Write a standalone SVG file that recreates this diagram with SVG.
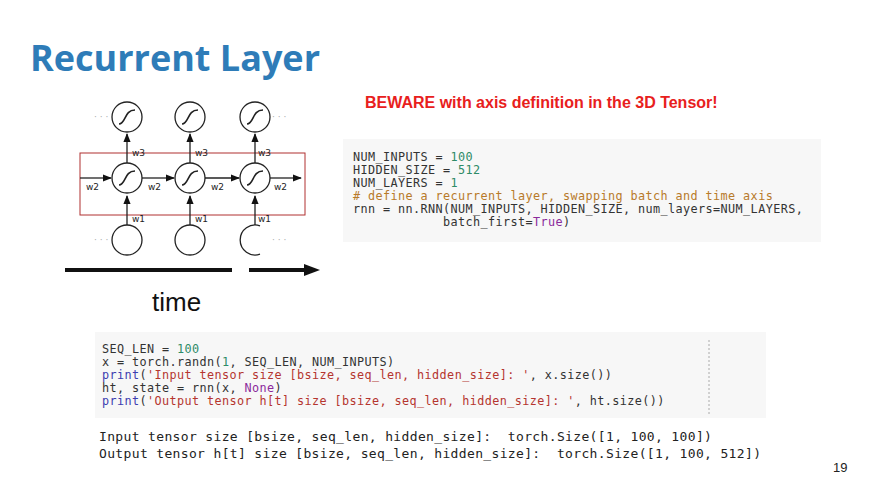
<svg xmlns="http://www.w3.org/2000/svg" width="869" height="486" viewBox="0 0 869 486">
<style>
.n{fill:#fff;stroke:#222;stroke-width:1.3}
.s{fill:none;stroke:#222;stroke-width:1.6}
.c{stroke:#222;stroke-width:1.3;fill:none}
.w{font-family:"DejaVu Sans",sans-serif;font-size:9px;fill:#222}
.m{font-family:"DejaVu Sans Mono",monospace;font-size:11.8px;letter-spacing:0.4px;fill:#333;white-space:pre}
.d{fill:#aaa;font-family:"DejaVu Sans",sans-serif;font-size:9px}
.g{fill:#2e8b67}.o{fill:#b87a2a}.p{fill:#8b2a9b}.r{fill:#b5352f}.b{fill:#3d3db0}
</style>
<defs>
<marker id="a" viewBox="0 0 10 10" refX="9" refY="5" markerWidth="7" markerHeight="7" orient="auto"><path d="M0,1 L10,5 L0,9z" fill="#111"/></marker>
<g id="sig"><path d="M-8,7 C-1,7 -3,-7 8,-7" class="s"/></g>
</defs>
<rect width="869" height="486" fill="#fff"/>
<text x="30" y="71" font-family="Open Sans,sans-serif" font-weight="bold" font-size="36" fill="#2e7cb8">Recurrent Layer</text>
<text x="365" y="108" font-family="Liberation Sans,sans-serif" font-weight="bold" font-size="16" fill="#e8201c">BEWARE with axis definition in the 3D Tensor!</text>

<g id="connectors">
<rect x="80" y="153" width="225" height="62" fill="none" stroke="#b03030" stroke-width="1"/>
<line x1="127" y1="225" x2="127" y2="196" class="c" marker-end="url(#a)"/>
<line x1="190" y1="225" x2="190" y2="196" class="c" marker-end="url(#a)"/>
<line x1="255" y1="225" x2="255" y2="196" class="c" marker-end="url(#a)"/>
<line x1="127" y1="163" x2="127" y2="134" class="c" marker-end="url(#a)"/>
<line x1="190" y1="163" x2="190" y2="134" class="c" marker-end="url(#a)"/>
<line x1="255" y1="163" x2="255" y2="134" class="c" marker-end="url(#a)"/>
<line x1="80" y1="178" x2="111" y2="178" class="c" marker-end="url(#a)"/>
<line x1="142" y1="178" x2="174" y2="178" class="c" marker-end="url(#a)"/>
<line x1="205" y1="178" x2="239" y2="178" class="c" marker-end="url(#a)"/>
<line x1="270" y1="178" x2="301" y2="178" class="c" marker-end="url(#a)"/>
<text class="w" x="132" y="156">w3</text><text class="w" x="195" y="156">w3</text><text class="w" x="258" y="156">w3</text>
<text class="w" x="86" y="190">w2</text><text class="w" x="148" y="190">w2</text><text class="w" x="211" y="190">w2</text><text class="w" x="274" y="190">w2</text>
<text class="w" x="132" y="222">w1</text><text class="w" x="195" y="222">w1</text><text class="w" x="258" y="222">w1</text>
<line x1="65" y1="270" x2="232" y2="270" stroke="#111" stroke-width="4"/>
<line x1="249" y1="270" x2="306" y2="270" stroke="#111" stroke-width="4"/>
<path d="M304,264 L320,270 L304,276z" fill="#111"/>
</g>
<text class="d" x="94" y="120">· · ·</text><text class="d" x="272" y="120">· · ·</text>
<text class="d" x="94" y="243">· · ·</text><text class="d" x="272" y="243">· · ·</text>
<g id="o1"><circle class="n" cx="127" cy="117" r="15"/><use href="#sig" x="127" y="117"/></g>
<g id="o2"><circle class="n" cx="190" cy="117" r="15"/><use href="#sig" x="190" y="117"/></g>
<g id="o3"><circle class="n" cx="255" cy="117" r="15"/><use href="#sig" x="255" y="117"/></g>
<g id="h1"><circle class="n" cx="127" cy="178" r="15"/><use href="#sig" x="127" y="178"/></g>
<g id="h2"><circle class="n" cx="190" cy="178" r="15"/><use href="#sig" x="190" y="178"/></g>
<g id="h3"><circle class="n" cx="255" cy="178" r="15"/><use href="#sig" x="255" y="178"/></g>
<g id="i1"><circle class="n" cx="127" cy="240" r="15"/></g>
<g id="i2"><circle class="n" cx="190" cy="240" r="15"/></g>
<g id="i3"><path d="M250,254.2 A15,15 0 1 0 250,225.8" class="c" transform="rotate(180 255 240)"/></g>
<text x="152" y="311" font-family="Liberation Sans,sans-serif" font-size="26" fill="#111">time</text>

<g id="code1">
<rect x="343" y="139" width="478" height="103" fill="#f7f7f7"/>
<text class="m" x="353" y="161">NUM_INPUTS = <tspan class="g">100</tspan></text>
<text class="m" x="353" y="174">HIDDEN_SIZE = <tspan class="g">512</tspan></text>
<text class="m" x="353" y="187">NUM_LAYERS = <tspan class="g">1</tspan></text>
<text class="m o" x="353" y="200"># define a recurrent layer, swapping batch and time axis</text>
<text class="m" x="353" y="213">rnn = nn.RNN(NUM_INPUTS, HIDDEN_SIZE, num_layers=NUM_LAYERS,</text>
<text class="m" x="353" y="226">            batch_first=<tspan class="p">True</tspan>)</text>
</g>
<g id="code2">
<rect x="95" y="332" width="671" height="86" fill="#f7f7f7"/>
<line x1="709" y1="340" x2="709" y2="415" stroke="#aaa" stroke-dasharray="2,2"/>
<text class="m" x="102" y="353">SEQ_LEN = <tspan class="g">100</tspan></text>
<text class="m" x="102" y="366">x = torch.randn(<tspan class="g">1</tspan>, SEQ_LEN, NUM_INPUTS)</text>
<text class="m" x="102" y="379"><tspan class="b">print</tspan>(<tspan class="r">'Input tensor size [bsize, seq_len, hidden_size]: '</tspan>, x.size())</text>
<text class="m" x="102" y="392">ht, state = rnn(x, <tspan class="p">None</tspan>)</text>
<text class="m" x="102" y="405"><tspan class="b">print</tspan>(<tspan class="r">'Output tensor h[t] size [bsize, seq_len, hidden_size]: '</tspan>, ht.size())</text>
</g>
<text class="m" x="99" y="441" style="font-size:13px;letter-spacing:0.35px;fill:#222">Input tensor size [bsize, seq_len, hidden_size]:  torch.Size([1, 100, 100])</text>
<text class="m" x="99" y="458" style="font-size:13px;letter-spacing:0.35px;fill:#222">Output tensor h[t] size [bsize, seq_len, hidden_size]:  torch.Size([1, 100, 512])</text>
<text x="833" y="472" font-family="Liberation Sans,sans-serif" font-size="13" fill="#222">19</text>
</svg>
